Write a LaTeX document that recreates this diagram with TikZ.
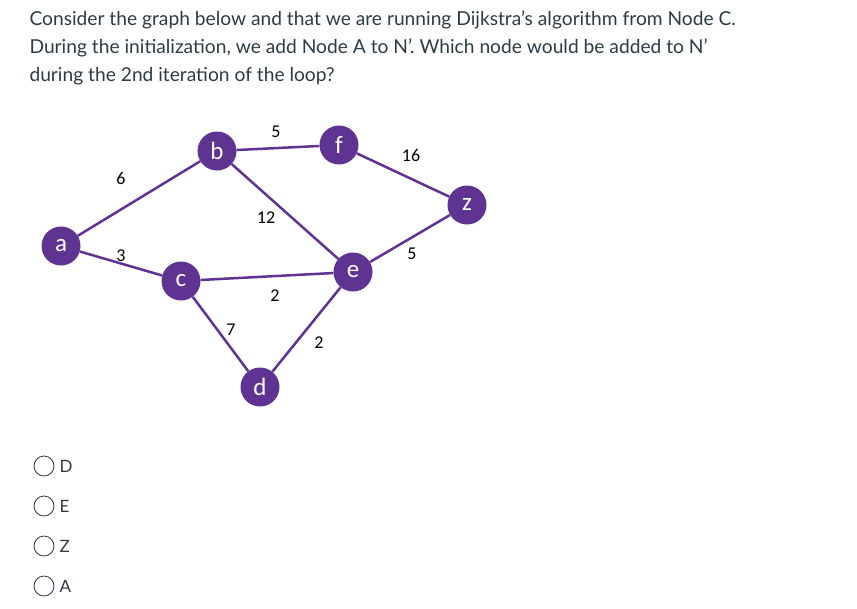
\documentclass[tikz,border=0pt]{standalone}
\usepackage{fontspec}
\setmainfont{Lato}
\newfontfamily\carfont{Carlito}
\definecolor{pur}{HTML}{5E3391}
\definecolor{txt}{HTML}{2D3B45}
\newcommand{\apos}{\symbol{39}}
\begin{document}
\begin{tikzpicture}[x=1pt,y=-1pt,
  vtx/.style={circle,fill=pur,minimum size=39pt,inner sep=0pt,text=white,font=\carfont\fontsize{25}{25}\selectfont},
  edge/.style={draw=pur,line width=2.5pt},
  wt/.style={font=\carfont\fontsize{18}{18}\selectfont,text=black},
  q/.style={anchor=west,font=\fontsize{19.2}{19.2}\selectfont,text=txt},
  radio/.style={circle,draw=txt,line width=0.8pt,minimum size=20pt,inner sep=0pt}]
\useasboundingbox (0,0) rectangle (857,608);
\node[q] (l1) at (26,20) {Consider the graph below and that we are running Dijkstra\apos s algorithm from Node C.};
\node[q] (l2) at (26,48) {During the initialization, we add Node A to N\apos. Which node would be added to N\apos};
\node[q] (l3) at (26,76) {during the 2nd iteration of the loop?};
\node[vtx] (a) at (61,246) {a};
\node[vtx] (b) at (217,151) {b};
\node[vtx] (f) at (339,145) {f};
\node[vtx] (z) at (467,205) {z};
\node[vtx] (e) at (353,272) {e};
\node[vtx] (c) at (181,281) {c};
\node[vtx] (d) at (260,387) {d};
\draw[edge] (a) -- (b);
\draw[edge] (a) -- (c);
\draw[edge] (b) -- (f);
\draw[edge] (b) -- (e);
\draw[edge] (f) -- (z);
\draw[edge] (z) -- (e);
\draw[edge] (c) -- (e);
\draw[edge] (c) -- (d);
\draw[edge] (d) -- (e);
\node[wt] (w1) at (121,178) {6};
\node[wt] (w2) at (121,256) {3};
\node[wt] (w3) at (276,132) {5};
\node[wt] (w4) at (266,218) {12};
\node[wt] (w5) at (275,296) {2};
\node[wt] (w6) at (231,330) {7};
\node[wt] (w7) at (319,343) {2};
\node[wt] (w8) at (411,155) {16};
\node[wt] (w9) at (412,254) {5};
\foreach \y/\t [count=\i] in {466/D,506/E,546/Z,586/A}{
  \node[radio] (r\i) at (44,\y) {};
  \node[q,font=\fontsize{17}{17}\selectfont] (o\i) at (56,\y) {\t};
}
\end{tikzpicture}
\end{document}
